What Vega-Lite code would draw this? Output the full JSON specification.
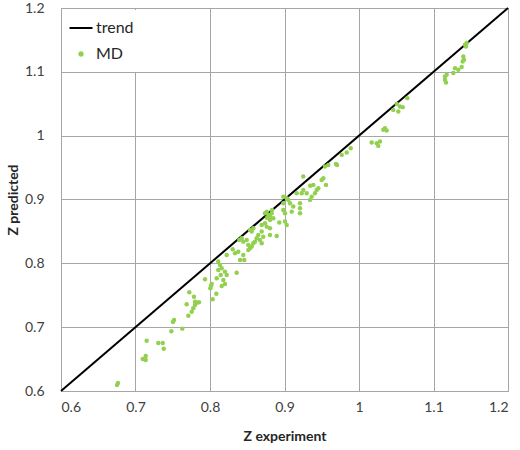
{
  "$schema": "https://vega.github.io/schema/vega-lite/v6.json",
  "width": 447,
  "height": 383,
  "autosize": "none",
  "padding": {"left": 61, "top": 8, "right": 12, "bottom": 59},
  "background": "white",
  "config": {
    "font": "Lato",
    "view": {"stroke": "#a6a6a6", "strokeWidth": 1},
    "axis": {
      "labelFont": "Lato",
      "labelFontSize": 14,
      "labelColor": "#404040",
      "titleFont": "Lato",
      "titleFontSize": 14,
      "titleFontWeight": "bold",
      "titleColor": "#262626",
      "gridColor": "#a6a6a6",
      "gridOpacity": 1,
      "domainColor": "#a6a6a6",
      "ticks": false
    },
    "legend": {
      "labelFont": "Lato",
      "labelFontSize": 16,
      "labelColor": "#262626"
    }
  },
  "data": {
    "values": [
      {"series": "trend", "ze": 0.6, "zp": 0.6},
      {"series": "trend", "ze": 1.2, "zp": 1.2},
      {"series": "MD", "ze": 0.6765, "zp": 0.6125},
      {"series": "MD", "ze": 0.6752, "zp": 0.6094},
      {"series": "MD", "ze": 0.7097, "zp": 0.6502},
      {"series": "MD", "ze": 0.7137, "zp": 0.6549},
      {"series": "MD", "ze": 0.7137, "zp": 0.6486},
      {"series": "MD", "ze": 0.715, "zp": 0.6788},
      {"series": "MD", "ze": 0.7306, "zp": 0.6752},
      {"series": "MD", "ze": 0.7365, "zp": 0.6752},
      {"series": "MD", "ze": 0.7379, "zp": 0.6663},
      {"series": "MD", "ze": 0.7481, "zp": 0.6936},
      {"series": "MD", "ze": 0.7517, "zp": 0.7113},
      {"series": "MD", "ze": 0.7503, "zp": 0.7082},
      {"series": "MD", "ze": 0.7628, "zp": 0.6977},
      {"series": "MD", "ze": 0.7709, "zp": 0.718},
      {"series": "MD", "ze": 0.7687, "zp": 0.7359},
      {"series": "MD", "ze": 0.7754, "zp": 0.7243},
      {"series": "MD", "ze": 0.7776, "zp": 0.7296},
      {"series": "MD", "ze": 0.7799, "zp": 0.7348},
      {"series": "MD", "ze": 0.7821, "zp": 0.7384},
      {"series": "MD", "ze": 0.7852, "zp": 0.739},
      {"series": "MD", "ze": 0.7799, "zp": 0.74},
      {"series": "MD", "ze": 0.7722, "zp": 0.7547},
      {"series": "MD", "ze": 0.7785, "zp": 0.7478},
      {"series": "MD", "ze": 0.7933, "zp": 0.7751},
      {"series": "MD", "ze": 0.8036, "zp": 0.7437},
      {"series": "MD", "ze": 0.8085, "zp": 0.7525},
      {"series": "MD", "ze": 0.8004, "zp": 0.761},
      {"series": "MD", "ze": 0.8013, "zp": 0.7646},
      {"series": "MD", "ze": 0.8023, "zp": 0.7677},
      {"series": "MD", "ze": 0.8111, "zp": 0.8027},
      {"series": "MD", "ze": 0.8134, "zp": 0.7975},
      {"series": "MD", "ze": 0.8111, "zp": 0.7897},
      {"series": "MD", "ze": 0.8157, "zp": 0.7923},
      {"series": "MD", "ze": 0.8144, "zp": 0.7818},
      {"series": "MD", "ze": 0.809, "zp": 0.7766},
      {"series": "MD", "ze": 0.8179, "zp": 0.774},
      {"series": "MD", "ze": 0.8201, "zp": 0.787},
      {"series": "MD", "ze": 0.8224, "zp": 0.7818},
      {"series": "MD", "ze": 0.8201, "zp": 0.7677},
      {"series": "MD", "ze": 0.8157, "zp": 0.7646},
      {"series": "MD", "ze": 0.8358, "zp": 0.7854},
      {"series": "MD", "ze": 0.8224, "zp": 0.8132},
      {"series": "MD", "ze": 0.8305, "zp": 0.8221},
      {"series": "MD", "ze": 0.8336, "zp": 0.8158},
      {"series": "MD", "ze": 0.838, "zp": 0.8183},
      {"series": "MD", "ze": 0.8447, "zp": 0.8132},
      {"series": "MD", "ze": 0.8403, "zp": 0.8053},
      {"series": "MD", "ze": 0.846, "zp": 0.8053},
      {"series": "MD", "ze": 0.8393, "zp": 0.8367},
      {"series": "MD", "ze": 0.8426, "zp": 0.8393},
      {"series": "MD", "ze": 0.8447, "zp": 0.834},
      {"series": "MD", "ze": 0.8493, "zp": 0.8367},
      {"series": "MD", "ze": 0.8514, "zp": 0.8288},
      {"series": "MD", "ze": 0.8537, "zp": 0.8237},
      {"series": "MD", "ze": 0.856, "zp": 0.8262},
      {"series": "MD", "ze": 0.8514, "zp": 0.821},
      {"series": "MD", "ze": 0.8581, "zp": 0.8315},
      {"series": "MD", "ze": 0.8604, "zp": 0.834},
      {"series": "MD", "ze": 0.8671, "zp": 0.8367},
      {"series": "MD", "ze": 0.8694, "zp": 0.8315},
      {"series": "MD", "ze": 0.8537, "zp": 0.8524},
      {"series": "MD", "ze": 0.8581, "zp": 0.855},
      {"series": "MD", "ze": 0.856, "zp": 0.8497},
      {"series": "MD", "ze": 0.8627, "zp": 0.8393},
      {"series": "MD", "ze": 0.8648, "zp": 0.8445},
      {"series": "MD", "ze": 0.8694, "zp": 0.8497},
      {"series": "MD", "ze": 0.8715, "zp": 0.8418},
      {"series": "MD", "ze": 0.8805, "zp": 0.8445},
      {"series": "MD", "ze": 0.8895, "zp": 0.8429},
      {"series": "MD", "ze": 0.8694, "zp": 0.8602},
      {"series": "MD", "ze": 0.8738, "zp": 0.8628},
      {"series": "MD", "ze": 0.8761, "zp": 0.8575},
      {"series": "MD", "ze": 0.8805, "zp": 0.855},
      {"series": "MD", "ze": 0.8738, "zp": 0.8785},
      {"series": "MD", "ze": 0.8761, "zp": 0.881},
      {"series": "MD", "ze": 0.8783, "zp": 0.8759},
      {"series": "MD", "ze": 0.8805, "zp": 0.8732},
      {"series": "MD", "ze": 0.8828, "zp": 0.8785},
      {"series": "MD", "ze": 0.8805, "zp": 0.868},
      {"series": "MD", "ze": 0.885, "zp": 0.8707},
      {"series": "MD", "ze": 0.8765, "zp": 0.8712},
      {"series": "MD", "ze": 0.8832, "zp": 0.8837},
      {"series": "MD", "ze": 0.893, "zp": 0.8638},
      {"series": "MD", "ze": 0.9007, "zp": 0.8654},
      {"series": "MD", "ze": 0.903, "zp": 0.8602},
      {"series": "MD", "ze": 0.8984, "zp": 0.8837},
      {"series": "MD", "ze": 0.9007, "zp": 0.8785},
      {"series": "MD", "ze": 0.8984, "zp": 0.8942},
      {"series": "MD", "ze": 0.8984, "zp": 0.9045},
      {"series": "MD", "ze": 0.903, "zp": 0.902},
      {"series": "MD", "ze": 0.9051, "zp": 0.8994},
      {"series": "MD", "ze": 0.9074, "zp": 0.8942},
      {"series": "MD", "ze": 0.9118, "zp": 0.8889},
      {"series": "MD", "ze": 0.9097, "zp": 0.881},
      {"series": "MD", "ze": 0.9208, "zp": 0.8942},
      {"series": "MD", "ze": 0.9208, "zp": 0.8864},
      {"series": "MD", "ze": 0.9208, "zp": 0.8785},
      {"series": "MD", "ze": 0.9164, "zp": 0.9099},
      {"series": "MD", "ze": 0.9231, "zp": 0.9099},
      {"series": "MD", "ze": 0.9252, "zp": 0.915},
      {"series": "MD", "ze": 0.9298, "zp": 0.9099},
      {"series": "MD", "ze": 0.9365, "zp": 0.9045},
      {"series": "MD", "ze": 0.9342, "zp": 0.8994},
      {"series": "MD", "ze": 0.9409, "zp": 0.9099},
      {"series": "MD", "ze": 0.9432, "zp": 0.915},
      {"series": "MD", "ze": 0.9454, "zp": 0.9177},
      {"series": "MD", "ze": 0.9387, "zp": 0.9229},
      {"series": "MD", "ze": 0.9252, "zp": 0.9359},
      {"series": "MD", "ze": 0.9345, "zp": 0.9215},
      {"series": "MD", "ze": 0.9499, "zp": 0.9307},
      {"series": "MD", "ze": 0.9521, "zp": 0.9334},
      {"series": "MD", "ze": 0.9557, "zp": 0.9229},
      {"series": "MD", "ze": 0.9544, "zp": 0.9516},
      {"series": "MD", "ze": 0.9588, "zp": 0.9542},
      {"series": "MD", "ze": 0.9691, "zp": 0.9558},
      {"series": "MD", "ze": 0.9705, "zp": 0.9542},
      {"series": "MD", "ze": 0.9768, "zp": 0.9699},
      {"series": "MD", "ze": 0.9835, "zp": 0.9735},
      {"series": "MD", "ze": 0.9889, "zp": 0.9804},
      {"series": "MD", "ze": 1.017, "zp": 0.9892},
      {"series": "MD", "ze": 1.0238, "zp": 0.9882},
      {"series": "MD", "ze": 1.0259, "zp": 0.984},
      {"series": "MD", "ze": 1.0282, "zp": 0.9908},
      {"series": "MD", "ze": 1.0326, "zp": 1.0091},
      {"series": "MD", "ze": 1.0349, "zp": 1.0118},
      {"series": "MD", "ze": 1.0372, "zp": 1.008},
      {"series": "MD", "ze": 1.046, "zp": 1.0404},
      {"series": "MD", "ze": 1.0528, "zp": 1.0378},
      {"series": "MD", "ze": 1.055, "zp": 1.0456},
      {"series": "MD", "ze": 1.0587, "zp": 1.0447},
      {"series": "MD", "ze": 1.0506, "zp": 1.0498},
      {"series": "MD", "ze": 1.0648, "zp": 1.0588},
      {"series": "MD", "ze": 1.1154, "zp": 1.0926},
      {"series": "MD", "ze": 1.1154, "zp": 1.0875},
      {"series": "MD", "ze": 1.1168, "zp": 1.0832},
      {"series": "MD", "ze": 1.1177, "zp": 1.0953},
      {"series": "MD", "ze": 1.1266, "zp": 1.098},
      {"series": "MD", "ze": 1.1289, "zp": 1.1058},
      {"series": "MD", "ze": 1.1333, "zp": 1.1031},
      {"series": "MD", "ze": 1.1378, "zp": 1.1074},
      {"series": "MD", "ze": 1.14, "zp": 1.124},
      {"series": "MD", "ze": 1.1409, "zp": 1.1188},
      {"series": "MD", "ze": 1.1392, "zp": 1.1161},
      {"series": "MD", "ze": 1.1423, "zp": 1.1423},
      {"series": "MD", "ze": 1.1446, "zp": 1.145},
      {"series": "MD", "ze": 1.1436, "zp": 1.1396}
    ]
  },
  "encoding": {
    "x": {
      "field": "ze",
      "type": "quantitative",
      "title": "Z experiment",
      "scale": {"domain": [0.6, 1.2], "nice": false, "zero": false},
      "axis": {
        "values": [0.6, 0.7, 0.8, 0.9, 1, 1.1, 1.2],
        "format": "~g",
        "labelPadding": 9,
        "titlePadding": 15
      }
    },
    "y": {
      "field": "zp",
      "type": "quantitative",
      "title": "Z predicted",
      "scale": {"domain": [0.6, 1.2], "nice": false, "zero": false},
      "axis": {
        "values": [0.6, 0.7, 0.8, 0.9, 1, 1.1, 1.2],
        "format": "~g",
        "labelPadding": 17,
        "titlePadding": 4
      }
    },
    "color": {
      "field": "series",
      "type": "nominal",
      "scale": {"domain": ["trend", "MD"], "range": ["#000000", "#92d050"]},
      "legend": {
        "title": null,
        "orient": "top-left",
        "offset": 2,
        "padding": 10,
        "fillColor": "white",
        "symbolSize": 529,
        "symbolStrokeWidth": 2,
        "symbolOffset": 0,
        "labelOffset": 7,
        "rowPadding": 10,
        "encode": {
          "symbols": {
            "update": {
              "shape": {"signal": "datum.value === 'trend' ? 'stroke' : 'circle'"},
              "size": {"signal": "datum.value === 'trend' ? 529 : 12"},
              "fill": {"signal": "datum.value === 'trend' ? 'transparent' : '#92d050'"},
              "stroke": {"signal": "datum.value === 'trend' ? '#000000' : 'transparent'"},
              "strokeWidth": {"value": 2},
              "opacity": {"value": 1}
            }
          }
        }
      }
    }
  },
  "layer": [
    {
      "transform": [{"filter": "datum.series === 'trend'"}],
      "mark": {"type": "line", "strokeWidth": 2}
    },
    {
      "transform": [{"filter": "datum.series === 'MD'"}],
      "mark": {"type": "circle", "size": 20, "opacity": 1}
    }
  ]
}
